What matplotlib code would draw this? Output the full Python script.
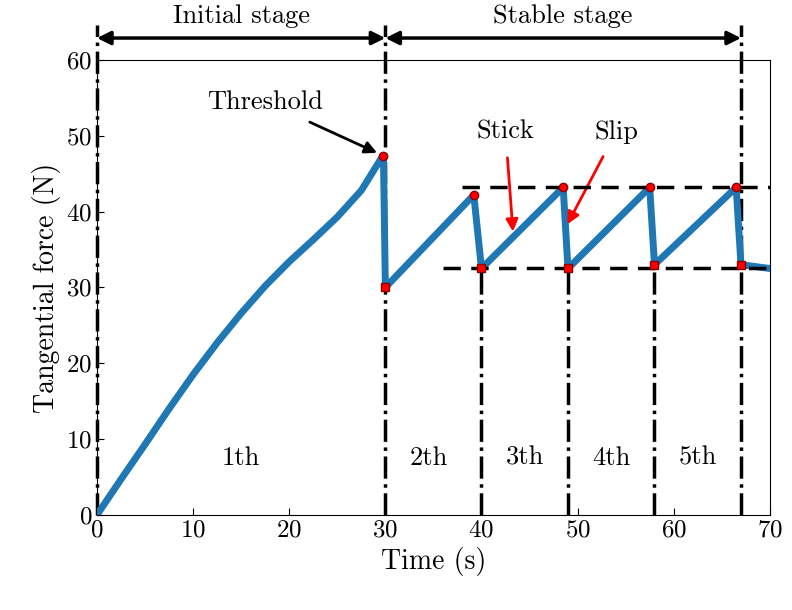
import matplotlib
matplotlib.use("Agg")
import matplotlib.pyplot as plt

plt.rcParams["font.family"] = "cmr10"
plt.rcParams["mathtext.fontset"] = "cm"
plt.rcParams["axes.formatter.use_mathtext"] = True

# curve pieces (time s, force N)
t_init = [0, 2.5, 5, 7.5, 10, 12.5, 15, 17.5, 20, 22.5, 25, 27.5, 29.7]
f_init = [0, 4.7, 9.3, 14, 18.5, 22.7, 26.6, 30.2, 33.4, 36.3, 39.3, 42.8, 47.3]
t_stable = [29.8, 30.0, 39.2, 40.0, 48.5, 49.0, 57.5, 58.0, 66.5, 67.0, 70]
f_stable = [47.3, 30.0, 42.2, 32.5, 43.2, 32.5, 43.2, 33.0, 43.2, 33.0, 32.5]

peak_t = [29.8, 39.2, 48.5, 57.5, 66.5]
peak_f = [47.3, 42.2, 43.2, 43.2, 43.2]
trough_t = [30.0, 40.0, 49.0, 58.0, 67.0]
trough_f = [30.0, 32.5, 32.5, 33.0, 33.0]

upper_level, lower_level = 43.2, 32.5
cycle_lines = [0, 30, 40, 49, 58, 67]
cycle_labels = ["1th", "2th", "3th", "4th", "5th"]
cycle_label_x = [15, 34.5, 44.5, 53.5, 62.5]

fig = plt.figure(figsize=(7.92, 6.10), dpi=100)
ax = fig.add_axes([0.1225, 0.156, 0.8495, 0.7456])

blue = "#1f77b4"
ax.plot(t_init + t_stable, f_init + f_stable, color=blue, lw=5, solid_capstyle="round", zorder=3)
ax.plot(peak_t, peak_f, "o", ms=6, mfc="red", mec="darkred", zorder=5)
ax.plot(trough_t, trough_f, "s", ms=6, mfc="red", mec="darkred", zorder=5)

ax.plot([38, 70], [upper_level] * 2, "k--", lw=2.5, dashes=(5, 3), zorder=4)
ax.plot([36, 70], [lower_level] * 2, "k--", lw=2.5, dashes=(5, 3), zorder=4)

for x in cycle_lines:
    top = 64.6 if x in (0, 30, 67) else lower_level
    ax.plot([x, x], [0, top], "k-.", lw=2.5, clip_on=False, zorder=2)

for x, lab in zip(cycle_label_x, cycle_labels):
    ax.text(x, 7.5, lab, ha="center", va="center", fontsize=19)

# stage arrows above the axes
for x0, x1, lab in [(0, 30, "Initial stage"), (30, 67, "Stable stage")]:
    ax.annotate("", xy=(x0, 62.9), xytext=(x1, 62.9), annotation_clip=False,
                arrowprops=dict(arrowstyle="<|-|>", color="k", lw=2.5, mutation_scale=20,
                                shrinkA=0, shrinkB=0))
    ax.text((x0 + x1) / 2, 65.8, lab, ha="center", va="center", fontsize=19)

ax.annotate("Threshold", xy=(29.4, 47.6), xytext=(17.5, 54.5), fontsize=19, ha="center", va="center",
            arrowprops=dict(arrowstyle="-|>", color="k", lw=2, mutation_scale=18, shrinkA=10))
ax.annotate("Stick", xy=(43.3, 37.0), xytext=(42.5, 50.5), fontsize=19, ha="center", va="center",
            arrowprops=dict(arrowstyle="-|>", color="red", lw=2, mutation_scale=18, shrinkA=8))
ax.annotate("Slip", xy=(48.8, 38.0), xytext=(54, 50.5), fontsize=19, ha="center", va="center",
            arrowprops=dict(arrowstyle="-|>", color="red", lw=2, mutation_scale=18, shrinkA=8))

ax.set_xlim(0, 70)
ax.set_ylim(0, 60)
ax.set_xticks(range(0, 71, 10))
ax.set_yticks(range(0, 61, 10))
ax.tick_params(labelsize=18, direction="in", length=5)
ax.set_xlabel("Time (s)", fontsize=20)
ax.set_ylabel("Tangential force (N)", fontsize=20)

fig.savefig("out.png", dpi=100)
